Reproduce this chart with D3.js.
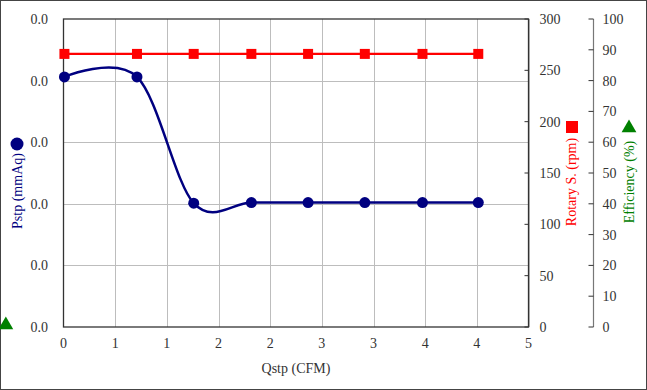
<!DOCTYPE html>
<html><head><meta charset="utf-8">
<script src="https://cdn.jsdelivr.net/npm/d3@7"></script>
<style>body{margin:0;background:#fff}svg{display:block}</style>
</head><body><svg id="c" width="647" height="390" font-family="'Liberation Serif', 'DejaVu Serif', serif" font-size="14"></svg>
<script>
const qstp = [0.01, 0.79, 1.40, 2.02, 2.63, 3.24, 3.86, 4.46];
const pstp = [0.0203, 0.0203, 0.01005, 0.0101, 0.0101, 0.0101, 0.0101, 0.0101];
const rpm = [266, 266, 266, 266, 266, 266, 266, 266];
const effX = [-0.62];
const effV = [0];
const xTicks = d3.range(10).map(i => i * 5 / 9);
const leftTicks = [0, 0.005, 0.01, 0.015, 0.02, 0.025];
const rpmTicks = [0, 50, 100, 150, 200, 250, 300];
const effTicks = d3.range(0, 101, 10);

const svg = d3.select("#c");
const L = 63.5, R = 528.5, T = 19, B = 327;
const x = d3.scaleLinear().domain([0, 5]).range([L, R]);
const yL = d3.scaleLinear().domain([0, 0.025]).range([B, T]);
const yR = d3.scaleLinear().domain([0, 300]).range([B, T]);
const yE = d3.scaleLinear().domain([0, 100]).range([B, T]);

svg.append("rect").attr("x", 0.5).attr("y", 0.5).attr("width", 646).attr("height", 389)
  .attr("fill", "#fff").attr("stroke", "#444");

// gridlines
svg.append("g").selectAll("line").data(xTicks.slice(1)).join("line")
  .attr("x1", d => Math.round(x(d)) + 0.5).attr("x2", d => Math.round(x(d)) + 0.5)
  .attr("y1", T).attr("y2", B).attr("stroke", "#bdbdbd");
svg.append("g").selectAll("line").data(leftTicks.slice(1, -1)).join("line")
  .attr("x1", L).attr("x2", R)
  .attr("y1", d => Math.round(yL(d)) + 0.5).attr("y2", d => Math.round(yL(d)) + 0.5).attr("stroke", "#bdbdbd");

// plot frame
svg.append("rect").attr("x", L).attr("y", T).attr("width", R - L).attr("height", B - T)
  .attr("fill", "none").attr("stroke", "#333").attr("stroke-width", 1.3);

// bottom axis labels
const fmtX = d => String(Math.round(d + 1e-9));
svg.append("g").selectAll("text").data(xTicks).join("text")
  .attr("x", d => x(d)).attr("y", 348).attr("text-anchor", "middle").attr("fill", "#333")
  .text(fmtX);
svg.append("text").attr("x", x(2.5)).attr("y", 373).attr("text-anchor", "middle").attr("fill", "#333").text("Qstp (CFM)");

// left axis labels
svg.append("g").selectAll("text").data(leftTicks).join("text")
  .attr("x", 48).attr("y", d => yL(d) + 5).attr("text-anchor", "end").attr("fill", "#333")
  .text(d3.format(".1f"));

// rpm axis
const gR = svg.append("g").attr("transform", `translate(${R},0)`);
gR.selectAll("line").data(rpmTicks).join("line")
  .attr("x1", -4).attr("x2", 0).attr("y1", d => yR(d)).attr("y2", d => yR(d)).attr("stroke", "#333");
gR.selectAll("text").data(rpmTicks).join("text")
  .attr("x", 11).attr("y", d => yR(d) + 5).attr("fill", "#333").text(d => d);

// efficiency axis
const EX = 593.5;
const gE = svg.append("g").attr("transform", `translate(${EX},0)`);
gE.append("line").attr("x1", 0).attr("x2", 0).attr("y1", T).attr("y2", B).attr("stroke", "#777").attr("stroke-width", 1.2);
gE.selectAll("line.t").data(effTicks).join("line").attr("class", "t")
  .attr("x1", -5).attr("x2", 0).attr("y1", d => yE(d)).attr("y2", d => yE(d)).attr("stroke", "#333");
gE.selectAll("text").data(effTicks).join("text")
  .attr("x", 9).attr("y", d => yE(d) + 5).attr("fill", "#333").text(d => d);

// axis titles with legend markers
svg.append("text").attr("transform", "translate(22,191) rotate(-90)").attr("text-anchor", "middle")
  .attr("fill", "#000080").text("Pstp (mmAq)");
svg.append("circle").attr("cx", 17).attr("cy", 144).attr("r", 6.5).attr("fill", "#000080");
svg.append("text").attr("transform", "translate(576,182) rotate(-90)").attr("text-anchor", "middle")
  .attr("fill", "#ff0000").text("Rotary S. (rpm)");
svg.append("rect").attr("x", 566).attr("y", 121).attr("width", 12).attr("height", 12).attr("fill", "#ff0000");
svg.append("text").attr("transform", "translate(634,182) rotate(-90)").attr("text-anchor", "middle")
  .attr("fill", "#008000").text("Efficiency (%)");
const tri = d3.symbol().type(d3.symbolTriangle).size(95);
svg.append("path").attr("d", tri).attr("transform", "translate(629,128)").attr("fill", "#008000");

// rpm series
const rpmPts = qstp.map((q, i) => [x(q), yR(rpm[i])]);
svg.append("path").attr("d", d3.line()(rpmPts)).attr("fill", "none").attr("stroke", "#ff0000").attr("stroke-width", 2.2);
svg.append("g").selectAll("rect").data(rpmPts).join("rect")
  .attr("x", d => d[0] - 5).attr("y", d => d[1] - 5).attr("width", 10).attr("height", 10).attr("fill", "#ff0000");

// pstp series
const pPts = qstp.map((q, i) => [x(q), yL(pstp[i])]);
svg.append("path").attr("d", d3.line().curve(d3.curveCardinal.tension(0))(pPts))
  .attr("fill", "none").attr("stroke", "#000080").attr("stroke-width", 2.5);
svg.append("g").selectAll("circle").data(pPts).join("circle")
  .attr("cx", d => d[0]).attr("cy", d => d[1]).attr("r", 5.5).attr("fill", "#000080");

// efficiency series
svg.append("g").selectAll("path").data(effX).join("path")
  .attr("d", tri).attr("transform", (d, i) => `translate(${x(d)},${yE(effV[i]) - 2})`).attr("fill", "#008000");
</script></body></html>
